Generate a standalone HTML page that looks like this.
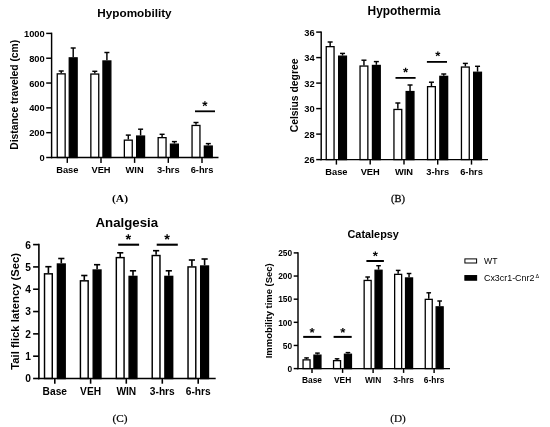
<!DOCTYPE html>
<html><head><meta charset="utf-8"><title>Figure</title>
<style>html,body{margin:0;padding:0;background:#fff}svg{display:block}</style></head>
<body><svg width="550" height="427" viewBox="0 0 550 427">
<rect x="0" y="0" width="550" height="427" fill="#fff"/>
<line x1="61.20" y1="73.20" x2="61.20" y2="71.00" stroke="#000" stroke-width="1.45" stroke-linecap="butt"/>
<line x1="58.70" y1="71.00" x2="63.70" y2="71.00" stroke="#000" stroke-width="1.45" stroke-linecap="butt"/>
<rect x="57.25" y="73.85" width="7.90" height="83.65" fill="#fff" stroke="#000" stroke-width="1.3"/>
<line x1="73.20" y1="57.20" x2="73.20" y2="48.00" stroke="#000" stroke-width="1.45" stroke-linecap="butt"/>
<line x1="70.70" y1="48.00" x2="75.70" y2="48.00" stroke="#000" stroke-width="1.45" stroke-linecap="butt"/>
<rect x="69.25" y="57.85" width="7.90" height="99.65" fill="#000" stroke="#000" stroke-width="1.3"/>
<line x1="94.80" y1="73.40" x2="94.80" y2="71.30" stroke="#000" stroke-width="1.45" stroke-linecap="butt"/>
<line x1="92.30" y1="71.30" x2="97.30" y2="71.30" stroke="#000" stroke-width="1.45" stroke-linecap="butt"/>
<rect x="90.85" y="74.05" width="7.90" height="83.45" fill="#fff" stroke="#000" stroke-width="1.3"/>
<line x1="106.90" y1="60.30" x2="106.90" y2="52.50" stroke="#000" stroke-width="1.45" stroke-linecap="butt"/>
<line x1="104.40" y1="52.50" x2="109.40" y2="52.50" stroke="#000" stroke-width="1.45" stroke-linecap="butt"/>
<rect x="102.95" y="60.95" width="7.90" height="96.55" fill="#000" stroke="#000" stroke-width="1.3"/>
<line x1="128.30" y1="139.50" x2="128.30" y2="135.10" stroke="#000" stroke-width="1.45" stroke-linecap="butt"/>
<line x1="125.80" y1="135.10" x2="130.80" y2="135.10" stroke="#000" stroke-width="1.45" stroke-linecap="butt"/>
<rect x="124.35" y="140.15" width="7.90" height="17.35" fill="#fff" stroke="#000" stroke-width="1.3"/>
<line x1="140.60" y1="135.40" x2="140.60" y2="129.20" stroke="#000" stroke-width="1.45" stroke-linecap="butt"/>
<line x1="138.10" y1="129.20" x2="143.10" y2="129.20" stroke="#000" stroke-width="1.45" stroke-linecap="butt"/>
<rect x="136.65" y="136.05" width="7.90" height="21.45" fill="#000" stroke="#000" stroke-width="1.3"/>
<line x1="162.10" y1="137.00" x2="162.10" y2="134.30" stroke="#000" stroke-width="1.45" stroke-linecap="butt"/>
<line x1="159.60" y1="134.30" x2="164.60" y2="134.30" stroke="#000" stroke-width="1.45" stroke-linecap="butt"/>
<rect x="158.15" y="137.65" width="7.90" height="19.85" fill="#fff" stroke="#000" stroke-width="1.3"/>
<line x1="174.40" y1="143.50" x2="174.40" y2="141.60" stroke="#000" stroke-width="1.45" stroke-linecap="butt"/>
<line x1="171.90" y1="141.60" x2="176.90" y2="141.60" stroke="#000" stroke-width="1.45" stroke-linecap="butt"/>
<rect x="170.45" y="144.15" width="7.90" height="13.35" fill="#000" stroke="#000" stroke-width="1.3"/>
<line x1="196.00" y1="124.80" x2="196.00" y2="122.50" stroke="#000" stroke-width="1.45" stroke-linecap="butt"/>
<line x1="193.50" y1="122.50" x2="198.50" y2="122.50" stroke="#000" stroke-width="1.45" stroke-linecap="butt"/>
<rect x="192.05" y="125.45" width="7.90" height="32.05" fill="#fff" stroke="#000" stroke-width="1.3"/>
<line x1="208.30" y1="145.40" x2="208.30" y2="143.60" stroke="#000" stroke-width="1.45" stroke-linecap="butt"/>
<line x1="205.80" y1="143.60" x2="210.80" y2="143.60" stroke="#000" stroke-width="1.45" stroke-linecap="butt"/>
<rect x="204.35" y="146.05" width="7.90" height="11.45" fill="#000" stroke="#000" stroke-width="1.3"/>
<line x1="51.60" y1="32.67" x2="51.60" y2="158.22" stroke="#000" stroke-width="1.45" stroke-linecap="butt"/>
<line x1="50.88" y1="157.50" x2="218.50" y2="157.50" stroke="#000" stroke-width="1.45" stroke-linecap="butt"/>
<line x1="46.20" y1="157.50" x2="51.60" y2="157.50" stroke="#000" stroke-width="1.45" stroke-linecap="butt"/>
<text x="44.70" y="161.08" font-family='"Liberation Sans", Arial, sans-serif' font-size="9.3" font-weight="bold" text-anchor="end" fill="#000">0</text>
<line x1="46.20" y1="132.68" x2="51.60" y2="132.68" stroke="#000" stroke-width="1.45" stroke-linecap="butt"/>
<text x="44.70" y="136.26" font-family='"Liberation Sans", Arial, sans-serif' font-size="9.3" font-weight="bold" text-anchor="end" fill="#000">200</text>
<line x1="46.20" y1="107.86" x2="51.60" y2="107.86" stroke="#000" stroke-width="1.45" stroke-linecap="butt"/>
<text x="44.70" y="111.44" font-family='"Liberation Sans", Arial, sans-serif' font-size="9.3" font-weight="bold" text-anchor="end" fill="#000">400</text>
<line x1="46.20" y1="83.04" x2="51.60" y2="83.04" stroke="#000" stroke-width="1.45" stroke-linecap="butt"/>
<text x="44.70" y="86.62" font-family='"Liberation Sans", Arial, sans-serif' font-size="9.3" font-weight="bold" text-anchor="end" fill="#000">600</text>
<line x1="46.20" y1="58.22" x2="51.60" y2="58.22" stroke="#000" stroke-width="1.45" stroke-linecap="butt"/>
<text x="44.70" y="61.80" font-family='"Liberation Sans", Arial, sans-serif' font-size="9.3" font-weight="bold" text-anchor="end" fill="#000">800</text>
<line x1="46.20" y1="33.40" x2="51.60" y2="33.40" stroke="#000" stroke-width="1.45" stroke-linecap="butt"/>
<text x="44.70" y="36.98" font-family='"Liberation Sans", Arial, sans-serif' font-size="9.3" font-weight="bold" text-anchor="end" fill="#000">1000</text>
<line x1="67.30" y1="157.50" x2="67.30" y2="162.90" stroke="#000" stroke-width="1.45" stroke-linecap="butt"/>
<text x="67.30" y="173.30" font-family='"Liberation Sans", Arial, sans-serif' font-size="9.3" font-weight="bold" text-anchor="middle" fill="#000">Base</text>
<line x1="101.00" y1="157.50" x2="101.00" y2="162.90" stroke="#000" stroke-width="1.45" stroke-linecap="butt"/>
<text x="101.00" y="173.30" font-family='"Liberation Sans", Arial, sans-serif' font-size="9.3" font-weight="bold" text-anchor="middle" fill="#000">VEH</text>
<line x1="134.60" y1="157.50" x2="134.60" y2="162.90" stroke="#000" stroke-width="1.45" stroke-linecap="butt"/>
<text x="134.60" y="173.30" font-family='"Liberation Sans", Arial, sans-serif' font-size="9.3" font-weight="bold" text-anchor="middle" fill="#000">WIN</text>
<line x1="168.30" y1="157.50" x2="168.30" y2="162.90" stroke="#000" stroke-width="1.45" stroke-linecap="butt"/>
<text x="168.30" y="173.30" font-family='"Liberation Sans", Arial, sans-serif' font-size="9.3" font-weight="bold" text-anchor="middle" fill="#000">3-hrs</text>
<line x1="202.00" y1="157.50" x2="202.00" y2="162.90" stroke="#000" stroke-width="1.45" stroke-linecap="butt"/>
<text x="202.00" y="173.30" font-family='"Liberation Sans", Arial, sans-serif' font-size="9.3" font-weight="bold" text-anchor="middle" fill="#000">6-hrs</text>
<text x="134.50" y="16.80" font-family='"Liberation Sans", Arial, sans-serif' font-size="11.7" font-weight="bold" text-anchor="middle" fill="#000" textLength="74.30" lengthAdjust="spacingAndGlyphs">Hypomobility</text>
<text x="17.60" y="94.80" font-family='"Liberation Sans", Arial, sans-serif' font-size="10.3" font-weight="bold" text-anchor="middle" fill="#000" transform="rotate(-90 17.60 94.80)" textLength="110.00" lengthAdjust="spacingAndGlyphs">Distance traveled (cm)</text>
<line x1="195.00" y1="111.30" x2="215.00" y2="111.30" stroke="#000" stroke-width="1.8" stroke-linecap="butt"/>
<text x="204.90" y="110.41" font-family='"Liberation Sans", Arial, sans-serif' font-size="13.5" font-weight="bold" text-anchor="middle" fill="#000" transform="rotate(0.03 204.90 110.41)">*</text>
<text x="120.00" y="201.70" font-family='"Liberation Serif", "Times New Roman", serif' font-size="10.8" font-weight="bold" text-anchor="middle" fill="#000" textLength="16.00" lengthAdjust="spacingAndGlyphs">(A)</text>
<line x1="330.15" y1="46.00" x2="330.15" y2="42.00" stroke="#000" stroke-width="1.45" stroke-linecap="butt"/>
<line x1="327.65" y1="42.00" x2="332.65" y2="42.00" stroke="#000" stroke-width="1.45" stroke-linecap="butt"/>
<rect x="326.25" y="46.65" width="7.80" height="112.95" fill="#fff" stroke="#000" stroke-width="1.3"/>
<line x1="342.55" y1="55.50" x2="342.55" y2="53.40" stroke="#000" stroke-width="1.45" stroke-linecap="butt"/>
<line x1="340.05" y1="53.40" x2="345.05" y2="53.40" stroke="#000" stroke-width="1.45" stroke-linecap="butt"/>
<rect x="338.65" y="56.15" width="7.80" height="103.45" fill="#000" stroke="#000" stroke-width="1.3"/>
<line x1="363.95" y1="65.40" x2="363.95" y2="60.20" stroke="#000" stroke-width="1.45" stroke-linecap="butt"/>
<line x1="361.45" y1="60.20" x2="366.45" y2="60.20" stroke="#000" stroke-width="1.45" stroke-linecap="butt"/>
<rect x="360.05" y="66.05" width="7.80" height="93.55" fill="#fff" stroke="#000" stroke-width="1.3"/>
<line x1="376.35" y1="64.80" x2="376.35" y2="61.60" stroke="#000" stroke-width="1.45" stroke-linecap="butt"/>
<line x1="373.85" y1="61.60" x2="378.85" y2="61.60" stroke="#000" stroke-width="1.45" stroke-linecap="butt"/>
<rect x="372.45" y="65.45" width="7.80" height="94.15" fill="#000" stroke="#000" stroke-width="1.3"/>
<line x1="397.85" y1="108.80" x2="397.85" y2="103.00" stroke="#000" stroke-width="1.45" stroke-linecap="butt"/>
<line x1="395.35" y1="103.00" x2="400.35" y2="103.00" stroke="#000" stroke-width="1.45" stroke-linecap="butt"/>
<rect x="393.95" y="109.45" width="7.80" height="50.15" fill="#fff" stroke="#000" stroke-width="1.3"/>
<line x1="410.05" y1="90.90" x2="410.05" y2="85.00" stroke="#000" stroke-width="1.45" stroke-linecap="butt"/>
<line x1="407.55" y1="85.00" x2="412.55" y2="85.00" stroke="#000" stroke-width="1.45" stroke-linecap="butt"/>
<rect x="406.15" y="91.55" width="7.80" height="68.05" fill="#000" stroke="#000" stroke-width="1.3"/>
<line x1="431.45" y1="86.00" x2="431.45" y2="82.20" stroke="#000" stroke-width="1.45" stroke-linecap="butt"/>
<line x1="428.95" y1="82.20" x2="433.95" y2="82.20" stroke="#000" stroke-width="1.45" stroke-linecap="butt"/>
<rect x="427.55" y="86.65" width="7.80" height="72.95" fill="#fff" stroke="#000" stroke-width="1.3"/>
<line x1="443.75" y1="75.70" x2="443.75" y2="74.00" stroke="#000" stroke-width="1.45" stroke-linecap="butt"/>
<line x1="441.25" y1="74.00" x2="446.25" y2="74.00" stroke="#000" stroke-width="1.45" stroke-linecap="butt"/>
<rect x="439.85" y="76.35" width="7.80" height="83.25" fill="#000" stroke="#000" stroke-width="1.3"/>
<line x1="465.35" y1="66.40" x2="465.35" y2="63.40" stroke="#000" stroke-width="1.45" stroke-linecap="butt"/>
<line x1="462.85" y1="63.40" x2="467.85" y2="63.40" stroke="#000" stroke-width="1.45" stroke-linecap="butt"/>
<rect x="461.45" y="67.05" width="7.80" height="92.55" fill="#fff" stroke="#000" stroke-width="1.3"/>
<line x1="477.55" y1="71.60" x2="477.55" y2="66.30" stroke="#000" stroke-width="1.45" stroke-linecap="butt"/>
<line x1="475.05" y1="66.30" x2="480.05" y2="66.30" stroke="#000" stroke-width="1.45" stroke-linecap="butt"/>
<rect x="473.65" y="72.25" width="7.80" height="87.35" fill="#000" stroke="#000" stroke-width="1.3"/>
<line x1="321.20" y1="31.38" x2="321.20" y2="160.32" stroke="#000" stroke-width="1.45" stroke-linecap="butt"/>
<line x1="320.47" y1="159.60" x2="488.00" y2="159.60" stroke="#000" stroke-width="1.45" stroke-linecap="butt"/>
<line x1="316.20" y1="159.60" x2="321.20" y2="159.60" stroke="#000" stroke-width="1.45" stroke-linecap="butt"/>
<text x="314.70" y="163.18" font-family='"Liberation Sans", Arial, sans-serif' font-size="9.3" font-weight="bold" text-anchor="end" fill="#000">26</text>
<line x1="316.20" y1="134.10" x2="321.20" y2="134.10" stroke="#000" stroke-width="1.45" stroke-linecap="butt"/>
<text x="314.70" y="137.68" font-family='"Liberation Sans", Arial, sans-serif' font-size="9.3" font-weight="bold" text-anchor="end" fill="#000">28</text>
<line x1="316.20" y1="108.60" x2="321.20" y2="108.60" stroke="#000" stroke-width="1.45" stroke-linecap="butt"/>
<text x="314.70" y="112.18" font-family='"Liberation Sans", Arial, sans-serif' font-size="9.3" font-weight="bold" text-anchor="end" fill="#000">30</text>
<line x1="316.20" y1="83.10" x2="321.20" y2="83.10" stroke="#000" stroke-width="1.45" stroke-linecap="butt"/>
<text x="314.70" y="86.68" font-family='"Liberation Sans", Arial, sans-serif' font-size="9.3" font-weight="bold" text-anchor="end" fill="#000">32</text>
<line x1="316.20" y1="57.60" x2="321.20" y2="57.60" stroke="#000" stroke-width="1.45" stroke-linecap="butt"/>
<text x="314.70" y="61.18" font-family='"Liberation Sans", Arial, sans-serif' font-size="9.3" font-weight="bold" text-anchor="end" fill="#000">34</text>
<line x1="316.20" y1="32.10" x2="321.20" y2="32.10" stroke="#000" stroke-width="1.45" stroke-linecap="butt"/>
<text x="314.70" y="35.68" font-family='"Liberation Sans", Arial, sans-serif' font-size="9.3" font-weight="bold" text-anchor="end" fill="#000">36</text>
<line x1="336.40" y1="159.60" x2="336.40" y2="164.60" stroke="#000" stroke-width="1.45" stroke-linecap="butt"/>
<text x="336.40" y="175.30" font-family='"Liberation Sans", Arial, sans-serif' font-size="9.3" font-weight="bold" text-anchor="middle" fill="#000">Base</text>
<line x1="370.20" y1="159.60" x2="370.20" y2="164.60" stroke="#000" stroke-width="1.45" stroke-linecap="butt"/>
<text x="370.20" y="175.30" font-family='"Liberation Sans", Arial, sans-serif' font-size="9.3" font-weight="bold" text-anchor="middle" fill="#000">VEH</text>
<line x1="404.00" y1="159.60" x2="404.00" y2="164.60" stroke="#000" stroke-width="1.45" stroke-linecap="butt"/>
<text x="404.00" y="175.30" font-family='"Liberation Sans", Arial, sans-serif' font-size="9.3" font-weight="bold" text-anchor="middle" fill="#000">WIN</text>
<line x1="437.70" y1="159.60" x2="437.70" y2="164.60" stroke="#000" stroke-width="1.45" stroke-linecap="butt"/>
<text x="437.70" y="175.30" font-family='"Liberation Sans", Arial, sans-serif' font-size="9.3" font-weight="bold" text-anchor="middle" fill="#000">3-hrs</text>
<line x1="471.50" y1="159.60" x2="471.50" y2="164.60" stroke="#000" stroke-width="1.45" stroke-linecap="butt"/>
<text x="471.50" y="175.30" font-family='"Liberation Sans", Arial, sans-serif' font-size="9.3" font-weight="bold" text-anchor="middle" fill="#000">6-hrs</text>
<text x="404.00" y="14.90" font-family='"Liberation Sans", Arial, sans-serif' font-size="11.9" font-weight="bold" text-anchor="middle" fill="#000" textLength="72.90" lengthAdjust="spacingAndGlyphs">Hypothermia</text>
<text x="298.00" y="95.40" font-family='"Liberation Sans", Arial, sans-serif' font-size="10.5" font-weight="bold" text-anchor="middle" fill="#000" transform="rotate(-90 298.00 95.40)" textLength="73.70" lengthAdjust="spacingAndGlyphs">Celsius degree</text>
<line x1="395.50" y1="77.90" x2="415.60" y2="77.90" stroke="#000" stroke-width="1.8" stroke-linecap="butt"/>
<text x="405.50" y="76.76" font-family='"Liberation Sans", Arial, sans-serif' font-size="13.2" font-weight="bold" text-anchor="middle" fill="#000" transform="rotate(0.03 405.50 76.76)">*</text>
<line x1="426.90" y1="61.90" x2="447.00" y2="61.90" stroke="#000" stroke-width="1.8" stroke-linecap="butt"/>
<text x="437.80" y="60.56" font-family='"Liberation Sans", Arial, sans-serif' font-size="13.2" font-weight="bold" text-anchor="middle" fill="#000" transform="rotate(0.03 437.80 60.56)">*</text>
<text x="398.00" y="201.70" font-family='"Liberation Serif", "Times New Roman", serif' font-size="11.3" font-weight="normal" text-anchor="middle" fill="#000" textLength="14.00" lengthAdjust="spacingAndGlyphs" stroke="#000" stroke-width="0.28">(B)</text>
<line x1="48.40" y1="273.10" x2="48.40" y2="266.70" stroke="#000" stroke-width="1.6" stroke-linecap="butt"/>
<line x1="45.30" y1="266.70" x2="51.50" y2="266.70" stroke="#000" stroke-width="1.6" stroke-linecap="butt"/>
<rect x="44.52" y="273.83" width="7.75" height="104.67" fill="#fff" stroke="#000" stroke-width="1.45"/>
<line x1="61.30" y1="263.30" x2="61.30" y2="258.50" stroke="#000" stroke-width="1.6" stroke-linecap="butt"/>
<line x1="58.20" y1="258.50" x2="64.40" y2="258.50" stroke="#000" stroke-width="1.6" stroke-linecap="butt"/>
<rect x="57.43" y="264.03" width="7.75" height="114.47" fill="#000" stroke="#000" stroke-width="1.45"/>
<line x1="84.30" y1="280.10" x2="84.30" y2="275.50" stroke="#000" stroke-width="1.6" stroke-linecap="butt"/>
<line x1="81.20" y1="275.50" x2="87.40" y2="275.50" stroke="#000" stroke-width="1.6" stroke-linecap="butt"/>
<rect x="80.42" y="280.83" width="7.75" height="97.67" fill="#fff" stroke="#000" stroke-width="1.45"/>
<line x1="97.10" y1="269.30" x2="97.10" y2="264.70" stroke="#000" stroke-width="1.6" stroke-linecap="butt"/>
<line x1="94.00" y1="264.70" x2="100.20" y2="264.70" stroke="#000" stroke-width="1.6" stroke-linecap="butt"/>
<rect x="93.22" y="270.03" width="7.75" height="108.47" fill="#000" stroke="#000" stroke-width="1.45"/>
<line x1="120.20" y1="256.90" x2="120.20" y2="252.80" stroke="#000" stroke-width="1.6" stroke-linecap="butt"/>
<line x1="117.10" y1="252.80" x2="123.30" y2="252.80" stroke="#000" stroke-width="1.6" stroke-linecap="butt"/>
<rect x="116.32" y="257.62" width="7.75" height="120.88" fill="#fff" stroke="#000" stroke-width="1.45"/>
<line x1="133.00" y1="275.70" x2="133.00" y2="270.80" stroke="#000" stroke-width="1.6" stroke-linecap="butt"/>
<line x1="129.90" y1="270.80" x2="136.10" y2="270.80" stroke="#000" stroke-width="1.6" stroke-linecap="butt"/>
<rect x="129.12" y="276.43" width="7.75" height="102.08" fill="#000" stroke="#000" stroke-width="1.45"/>
<line x1="156.10" y1="254.80" x2="156.10" y2="250.70" stroke="#000" stroke-width="1.6" stroke-linecap="butt"/>
<line x1="153.00" y1="250.70" x2="159.20" y2="250.70" stroke="#000" stroke-width="1.6" stroke-linecap="butt"/>
<rect x="152.22" y="255.53" width="7.75" height="122.97" fill="#fff" stroke="#000" stroke-width="1.45"/>
<line x1="168.80" y1="275.70" x2="168.80" y2="270.80" stroke="#000" stroke-width="1.6" stroke-linecap="butt"/>
<line x1="165.70" y1="270.80" x2="171.90" y2="270.80" stroke="#000" stroke-width="1.6" stroke-linecap="butt"/>
<rect x="164.92" y="276.43" width="7.75" height="102.08" fill="#000" stroke="#000" stroke-width="1.45"/>
<line x1="191.90" y1="266.20" x2="191.90" y2="260.00" stroke="#000" stroke-width="1.6" stroke-linecap="butt"/>
<line x1="188.80" y1="260.00" x2="195.00" y2="260.00" stroke="#000" stroke-width="1.6" stroke-linecap="butt"/>
<rect x="188.03" y="266.93" width="7.75" height="111.58" fill="#fff" stroke="#000" stroke-width="1.45"/>
<line x1="204.60" y1="265.30" x2="204.60" y2="259.00" stroke="#000" stroke-width="1.6" stroke-linecap="butt"/>
<line x1="201.50" y1="259.00" x2="207.70" y2="259.00" stroke="#000" stroke-width="1.6" stroke-linecap="butt"/>
<rect x="200.72" y="266.03" width="7.75" height="112.47" fill="#000" stroke="#000" stroke-width="1.45"/>
<line x1="38.90" y1="243.80" x2="38.90" y2="379.30" stroke="#000" stroke-width="1.6" stroke-linecap="butt"/>
<line x1="38.10" y1="378.50" x2="215.70" y2="378.50" stroke="#000" stroke-width="1.6" stroke-linecap="butt"/>
<line x1="33.10" y1="378.50" x2="38.90" y2="378.50" stroke="#000" stroke-width="1.6" stroke-linecap="butt"/>
<text x="30.90" y="382.43" font-family='"Liberation Sans", Arial, sans-serif' font-size="10.2" font-weight="bold" text-anchor="end" fill="#000">0</text>
<line x1="33.10" y1="356.18" x2="38.90" y2="356.18" stroke="#000" stroke-width="1.6" stroke-linecap="butt"/>
<text x="30.90" y="360.11" font-family='"Liberation Sans", Arial, sans-serif' font-size="10.2" font-weight="bold" text-anchor="end" fill="#000">1</text>
<line x1="33.10" y1="333.87" x2="38.90" y2="333.87" stroke="#000" stroke-width="1.6" stroke-linecap="butt"/>
<text x="30.90" y="337.79" font-family='"Liberation Sans", Arial, sans-serif' font-size="10.2" font-weight="bold" text-anchor="end" fill="#000">2</text>
<line x1="33.10" y1="311.55" x2="38.90" y2="311.55" stroke="#000" stroke-width="1.6" stroke-linecap="butt"/>
<text x="30.90" y="315.48" font-family='"Liberation Sans", Arial, sans-serif' font-size="10.2" font-weight="bold" text-anchor="end" fill="#000">3</text>
<line x1="33.10" y1="289.23" x2="38.90" y2="289.23" stroke="#000" stroke-width="1.6" stroke-linecap="butt"/>
<text x="30.90" y="293.16" font-family='"Liberation Sans", Arial, sans-serif' font-size="10.2" font-weight="bold" text-anchor="end" fill="#000">4</text>
<line x1="33.10" y1="266.92" x2="38.90" y2="266.92" stroke="#000" stroke-width="1.6" stroke-linecap="butt"/>
<text x="30.90" y="270.84" font-family='"Liberation Sans", Arial, sans-serif' font-size="10.2" font-weight="bold" text-anchor="end" fill="#000">5</text>
<line x1="33.10" y1="244.60" x2="38.90" y2="244.60" stroke="#000" stroke-width="1.6" stroke-linecap="butt"/>
<text x="30.90" y="248.53" font-family='"Liberation Sans", Arial, sans-serif' font-size="10.2" font-weight="bold" text-anchor="end" fill="#000">6</text>
<line x1="54.80" y1="378.50" x2="54.80" y2="383.70" stroke="#000" stroke-width="1.6" stroke-linecap="butt"/>
<text x="54.80" y="394.50" font-family='"Liberation Sans", Arial, sans-serif' font-size="10.2" font-weight="bold" text-anchor="middle" fill="#000">Base</text>
<line x1="90.60" y1="378.50" x2="90.60" y2="383.70" stroke="#000" stroke-width="1.6" stroke-linecap="butt"/>
<text x="90.60" y="394.50" font-family='"Liberation Sans", Arial, sans-serif' font-size="10.2" font-weight="bold" text-anchor="middle" fill="#000">VEH</text>
<line x1="126.30" y1="378.50" x2="126.30" y2="383.70" stroke="#000" stroke-width="1.6" stroke-linecap="butt"/>
<text x="126.30" y="394.50" font-family='"Liberation Sans", Arial, sans-serif' font-size="10.2" font-weight="bold" text-anchor="middle" fill="#000">WIN</text>
<line x1="162.30" y1="378.50" x2="162.30" y2="383.70" stroke="#000" stroke-width="1.6" stroke-linecap="butt"/>
<text x="162.30" y="394.50" font-family='"Liberation Sans", Arial, sans-serif' font-size="10.2" font-weight="bold" text-anchor="middle" fill="#000">3-hrs</text>
<line x1="198.20" y1="378.50" x2="198.20" y2="383.70" stroke="#000" stroke-width="1.6" stroke-linecap="butt"/>
<text x="198.20" y="394.50" font-family='"Liberation Sans", Arial, sans-serif' font-size="10.2" font-weight="bold" text-anchor="middle" fill="#000">6-hrs</text>
<text x="126.80" y="226.50" font-family='"Liberation Sans", Arial, sans-serif' font-size="13" font-weight="bold" text-anchor="middle" fill="#000" textLength="62.50" lengthAdjust="spacingAndGlyphs">Analgesia</text>
<text x="19.40" y="311.30" font-family='"Liberation Sans", Arial, sans-serif' font-size="11.3" font-weight="bold" text-anchor="middle" fill="#000" transform="rotate(-90 19.40 311.30)" textLength="116.80" lengthAdjust="spacingAndGlyphs">Tail flick latency (Sec)</text>
<line x1="118.20" y1="244.70" x2="139.10" y2="244.70" stroke="#000" stroke-width="2.1" stroke-linecap="butt"/>
<text x="128.30" y="244.21" font-family='"Liberation Sans", Arial, sans-serif' font-size="14.5" font-weight="bold" text-anchor="middle" fill="#000" transform="rotate(0.03 128.30 244.21)">*</text>
<line x1="156.70" y1="244.70" x2="177.80" y2="244.70" stroke="#000" stroke-width="2.1" stroke-linecap="butt"/>
<text x="167.00" y="244.21" font-family='"Liberation Sans", Arial, sans-serif' font-size="14.5" font-weight="bold" text-anchor="middle" fill="#000" transform="rotate(0.03 167.00 244.21)">*</text>
<text x="120.10" y="422.00" font-family='"Liberation Serif", "Times New Roman", serif' font-size="11.2" font-weight="normal" text-anchor="middle" fill="#000" textLength="15.00" lengthAdjust="spacingAndGlyphs" stroke="#000" stroke-width="0.2">(C)</text>
<line x1="306.55" y1="359.20" x2="306.55" y2="357.90" stroke="#000" stroke-width="1.45" stroke-linecap="butt"/>
<line x1="304.25" y1="357.90" x2="308.85" y2="357.90" stroke="#000" stroke-width="1.45" stroke-linecap="butt"/>
<rect x="303.05" y="359.85" width="7.00" height="8.75" fill="#fff" stroke="#000" stroke-width="1.3"/>
<line x1="317.45" y1="354.50" x2="317.45" y2="353.10" stroke="#000" stroke-width="1.45" stroke-linecap="butt"/>
<line x1="315.15" y1="353.10" x2="319.75" y2="353.10" stroke="#000" stroke-width="1.45" stroke-linecap="butt"/>
<rect x="313.95" y="355.15" width="7.00" height="13.45" fill="#000" stroke="#000" stroke-width="1.3"/>
<line x1="337.05" y1="360.00" x2="337.05" y2="358.80" stroke="#000" stroke-width="1.45" stroke-linecap="butt"/>
<line x1="334.75" y1="358.80" x2="339.35" y2="358.80" stroke="#000" stroke-width="1.45" stroke-linecap="butt"/>
<rect x="333.55" y="360.65" width="7.00" height="7.95" fill="#fff" stroke="#000" stroke-width="1.3"/>
<line x1="347.95" y1="353.60" x2="347.95" y2="352.60" stroke="#000" stroke-width="1.45" stroke-linecap="butt"/>
<line x1="345.65" y1="352.60" x2="350.25" y2="352.60" stroke="#000" stroke-width="1.45" stroke-linecap="butt"/>
<rect x="344.45" y="354.25" width="7.00" height="14.35" fill="#000" stroke="#000" stroke-width="1.3"/>
<line x1="367.65" y1="279.80" x2="367.65" y2="277.00" stroke="#000" stroke-width="1.45" stroke-linecap="butt"/>
<line x1="365.35" y1="277.00" x2="369.95" y2="277.00" stroke="#000" stroke-width="1.45" stroke-linecap="butt"/>
<rect x="364.15" y="280.45" width="7.00" height="88.15" fill="#fff" stroke="#000" stroke-width="1.3"/>
<line x1="378.55" y1="269.60" x2="378.55" y2="265.70" stroke="#000" stroke-width="1.45" stroke-linecap="butt"/>
<line x1="376.25" y1="265.70" x2="380.85" y2="265.70" stroke="#000" stroke-width="1.45" stroke-linecap="butt"/>
<rect x="375.05" y="270.25" width="7.00" height="98.35" fill="#000" stroke="#000" stroke-width="1.3"/>
<line x1="398.15" y1="273.70" x2="398.15" y2="270.40" stroke="#000" stroke-width="1.45" stroke-linecap="butt"/>
<line x1="395.85" y1="270.40" x2="400.45" y2="270.40" stroke="#000" stroke-width="1.45" stroke-linecap="butt"/>
<rect x="394.65" y="274.35" width="7.00" height="94.25" fill="#fff" stroke="#000" stroke-width="1.3"/>
<line x1="409.05" y1="277.30" x2="409.05" y2="273.50" stroke="#000" stroke-width="1.45" stroke-linecap="butt"/>
<line x1="406.75" y1="273.50" x2="411.35" y2="273.50" stroke="#000" stroke-width="1.45" stroke-linecap="butt"/>
<rect x="405.55" y="277.95" width="7.00" height="90.65" fill="#000" stroke="#000" stroke-width="1.3"/>
<line x1="428.75" y1="298.70" x2="428.75" y2="292.80" stroke="#000" stroke-width="1.45" stroke-linecap="butt"/>
<line x1="426.45" y1="292.80" x2="431.05" y2="292.80" stroke="#000" stroke-width="1.45" stroke-linecap="butt"/>
<rect x="425.25" y="299.35" width="7.00" height="69.25" fill="#fff" stroke="#000" stroke-width="1.3"/>
<line x1="439.65" y1="306.20" x2="439.65" y2="301.00" stroke="#000" stroke-width="1.45" stroke-linecap="butt"/>
<line x1="437.35" y1="301.00" x2="441.95" y2="301.00" stroke="#000" stroke-width="1.45" stroke-linecap="butt"/>
<rect x="436.15" y="306.85" width="7.00" height="61.75" fill="#000" stroke="#000" stroke-width="1.3"/>
<line x1="298.00" y1="252.18" x2="298.00" y2="369.33" stroke="#000" stroke-width="1.45" stroke-linecap="butt"/>
<line x1="297.27" y1="368.60" x2="450.00" y2="368.60" stroke="#000" stroke-width="1.45" stroke-linecap="butt"/>
<line x1="293.70" y1="368.60" x2="298.00" y2="368.60" stroke="#000" stroke-width="1.45" stroke-linecap="butt"/>
<text x="292.20" y="371.83" font-family='"Liberation Sans", Arial, sans-serif' font-size="8.4" font-weight="bold" text-anchor="end" fill="#000">0</text>
<line x1="293.70" y1="345.46" x2="298.00" y2="345.46" stroke="#000" stroke-width="1.45" stroke-linecap="butt"/>
<text x="292.20" y="348.69" font-family='"Liberation Sans", Arial, sans-serif' font-size="8.4" font-weight="bold" text-anchor="end" fill="#000">50</text>
<line x1="293.70" y1="322.32" x2="298.00" y2="322.32" stroke="#000" stroke-width="1.45" stroke-linecap="butt"/>
<text x="292.20" y="325.55" font-family='"Liberation Sans", Arial, sans-serif' font-size="8.4" font-weight="bold" text-anchor="end" fill="#000">100</text>
<line x1="293.70" y1="299.18" x2="298.00" y2="299.18" stroke="#000" stroke-width="1.45" stroke-linecap="butt"/>
<text x="292.20" y="302.41" font-family='"Liberation Sans", Arial, sans-serif' font-size="8.4" font-weight="bold" text-anchor="end" fill="#000">150</text>
<line x1="293.70" y1="276.04" x2="298.00" y2="276.04" stroke="#000" stroke-width="1.45" stroke-linecap="butt"/>
<text x="292.20" y="279.27" font-family='"Liberation Sans", Arial, sans-serif' font-size="8.4" font-weight="bold" text-anchor="end" fill="#000">200</text>
<line x1="293.70" y1="252.90" x2="298.00" y2="252.90" stroke="#000" stroke-width="1.45" stroke-linecap="butt"/>
<text x="292.20" y="256.13" font-family='"Liberation Sans", Arial, sans-serif' font-size="8.4" font-weight="bold" text-anchor="end" fill="#000">250</text>
<line x1="312.00" y1="368.60" x2="312.00" y2="372.90" stroke="#000" stroke-width="1.45" stroke-linecap="butt"/>
<text x="312.00" y="383.20" font-family='"Liberation Sans", Arial, sans-serif' font-size="8.4" font-weight="bold" text-anchor="middle" fill="#000">Base</text>
<line x1="342.60" y1="368.60" x2="342.60" y2="372.90" stroke="#000" stroke-width="1.45" stroke-linecap="butt"/>
<text x="342.60" y="383.20" font-family='"Liberation Sans", Arial, sans-serif' font-size="8.4" font-weight="bold" text-anchor="middle" fill="#000">VEH</text>
<line x1="373.10" y1="368.60" x2="373.10" y2="372.90" stroke="#000" stroke-width="1.45" stroke-linecap="butt"/>
<text x="373.10" y="383.20" font-family='"Liberation Sans", Arial, sans-serif' font-size="8.4" font-weight="bold" text-anchor="middle" fill="#000">WIN</text>
<line x1="403.60" y1="368.60" x2="403.60" y2="372.90" stroke="#000" stroke-width="1.45" stroke-linecap="butt"/>
<text x="403.60" y="383.20" font-family='"Liberation Sans", Arial, sans-serif' font-size="8.4" font-weight="bold" text-anchor="middle" fill="#000">3-hrs</text>
<line x1="434.10" y1="368.60" x2="434.10" y2="372.90" stroke="#000" stroke-width="1.45" stroke-linecap="butt"/>
<text x="434.10" y="383.20" font-family='"Liberation Sans", Arial, sans-serif' font-size="8.4" font-weight="bold" text-anchor="middle" fill="#000">6-hrs</text>
<text x="373.20" y="237.80" font-family='"Liberation Sans", Arial, sans-serif' font-size="10.9" font-weight="bold" text-anchor="middle" fill="#000" textLength="51.40" lengthAdjust="spacingAndGlyphs">Catalepsy</text>
<text x="271.60" y="310.80" font-family='"Liberation Sans", Arial, sans-serif' font-size="9.4" font-weight="bold" text-anchor="middle" fill="#000" transform="rotate(-90 271.60 310.80)" textLength="94.90" lengthAdjust="spacingAndGlyphs">Immobility time (Sec)</text>
<line x1="303.20" y1="336.90" x2="321.30" y2="336.90" stroke="#000" stroke-width="2.0" stroke-linecap="butt"/>
<text x="312.00" y="336.96" font-family='"Liberation Sans", Arial, sans-serif' font-size="13.2" font-weight="bold" text-anchor="middle" fill="#000" transform="rotate(0.03 312.00 336.96)">*</text>
<line x1="333.60" y1="336.90" x2="351.70" y2="336.90" stroke="#000" stroke-width="2.0" stroke-linecap="butt"/>
<text x="342.70" y="336.96" font-family='"Liberation Sans", Arial, sans-serif' font-size="13.2" font-weight="bold" text-anchor="middle" fill="#000" transform="rotate(0.03 342.70 336.96)">*</text>
<line x1="366.40" y1="261.00" x2="383.90" y2="261.00" stroke="#000" stroke-width="2.0" stroke-linecap="butt"/>
<text x="375.40" y="260.56" font-family='"Liberation Sans", Arial, sans-serif' font-size="13.2" font-weight="bold" text-anchor="middle" fill="#000" transform="rotate(0.03 375.40 260.56)">*</text>
<text x="398.00" y="422.20" font-family='"Liberation Serif", "Times New Roman", serif' font-size="11.2" font-weight="normal" text-anchor="middle" fill="#000" textLength="15.60" lengthAdjust="spacingAndGlyphs" stroke="#000" stroke-width="0.15">(D)</text>
<rect x="464.90" y="258.90" width="11.70" height="4.10" fill="#fff" stroke="#000" stroke-width="1.0"/>
<rect x="464.90" y="275.60" width="11.70" height="4.60" fill="#000" stroke="#000" stroke-width="1.1"/>
<text x="484.00" y="263.50" font-family='"Liberation Sans", Arial, sans-serif' font-size="8.4" font-weight="normal" text-anchor="start" fill="#000" textLength="13.40" lengthAdjust="spacingAndGlyphs">WT</text>
<text x="484" y="281.4" font-family='"Liberation Sans", Arial, sans-serif' font-size="8.7" fill="#000"><tspan textLength="50.4" lengthAdjust="spacingAndGlyphs">Cx3cr1-Cnr2</tspan><tspan dx="1.0" dy="-3.6" font-size="5.4">Δ</tspan></text>
</svg></body></html>
